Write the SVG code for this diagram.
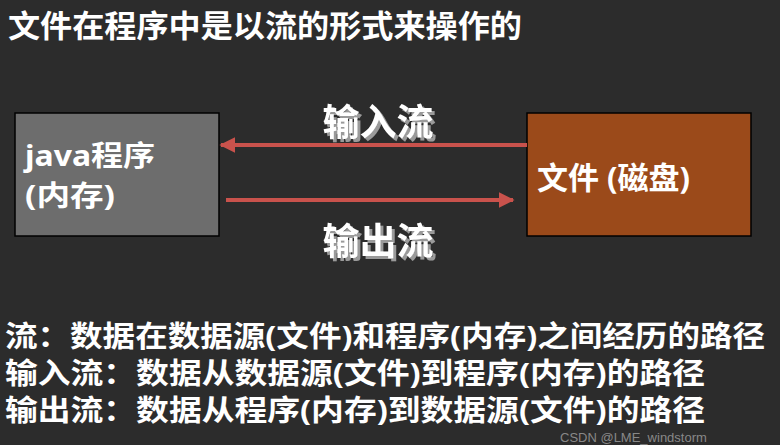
<svg xmlns="http://www.w3.org/2000/svg" width="780" height="445" viewBox="0 0 780 445">
<style>
.t{font-family:"Noto Sans","Noto Sans CJK SC",sans-serif;font-weight:bold;fill:#ffffff}
.conn{stroke:#c9524c;stroke-width:4;fill:none}
</style>
<defs>
<marker id="ah" viewBox="0 0 10 10" refX="9" refY="5" markerWidth="4" markerHeight="4" orient="auto" markerUnits="strokeWidth">
<path d="M0,0 L10,5 L0,10 z" fill="#c9524c"/>
</marker>
<filter id="sh" x="-10%" y="-10%" width="130%" height="140%">
<feDropShadow dx="3" dy="3" stdDeviation="0.6" flood-color="#9a9a9a" flood-opacity="1"/>
</filter>
</defs>
<rect width="780" height="445" fill="#2c2c2c"/>
<text class="t" x="8" y="37" font-size="31" textLength="514" lengthAdjust="spacingAndGlyphs">文件在程序中是以流的形式来操作的</text>
<g id="java">
<rect x="15" y="113" width="204" height="123" fill="#6d6d6d" stroke="#000" stroke-width="1.5"/>
<text class="t" x="25" y="166" font-size="28" textLength="130" lengthAdjust="spacingAndGlyphs">java程序</text>
<text class="t" x="25" y="206" font-size="28" textLength="90" lengthAdjust="spacingAndGlyphs">(内存)</text>
</g>
<g id="file">
<rect x="527" y="113" width="224" height="123" fill="#9b4a1a" stroke="#000" stroke-width="1.5"/>
<text class="t" x="537" y="189" font-size="31">文件 (磁盘)</text>
</g>
<g id="connectors">
<line class="conn" x1="527" y1="145" x2="221" y2="145" marker-end="url(#ah)"/>
<line class="conn" x1="226" y1="200" x2="513" y2="200" marker-end="url(#ah)"/>
<text class="t" x="378" y="136" font-size="37" text-anchor="middle" filter="url(#sh)">输入流</text>
<text class="t" x="378" y="255" font-size="37" text-anchor="middle" filter="url(#sh)">输出流</text>
</g>
<text class="t" x="5" y="347" font-size="29" textLength="760" lengthAdjust="spacingAndGlyphs">流：数据在数据源(文件)和程序(内存)之间经历的路径</text>
<text class="t" x="5" y="384" font-size="29" textLength="700" lengthAdjust="spacingAndGlyphs">输入流：数据从数据源(文件)到程序(内存)的路径</text>
<text class="t" x="5" y="421" font-size="29" textLength="700" lengthAdjust="spacingAndGlyphs">输出流：数据从程序(内存)到数据源(文件)的路径</text>
<text x="560" y="442" font-family="Liberation Sans, sans-serif" font-size="13" fill="#c8c8c8" fill-opacity="0.6">CSDN @LME_windstorm</text>
</svg>
